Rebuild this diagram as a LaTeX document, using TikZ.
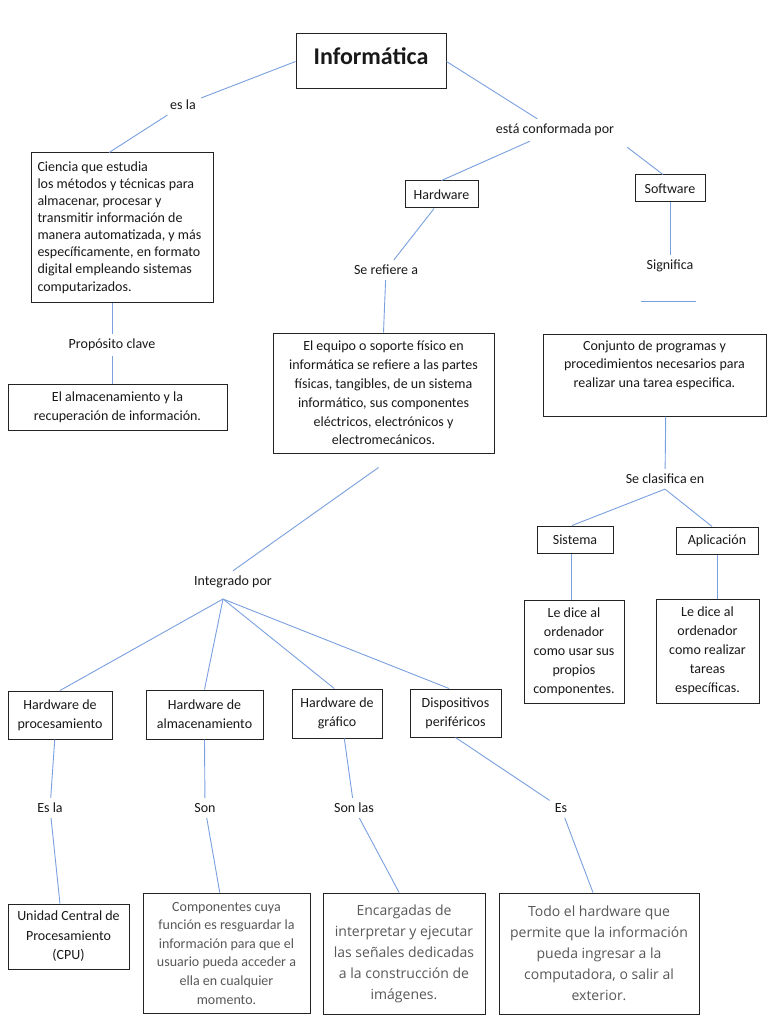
\documentclass[tikz,border=0pt]{standalone}
\usepackage{fontspec}
\setmainfont{Carlito}
\newfontfamily\osans{Open Sans}
\usetikzlibrary{calc}
\definecolor{lnblue}{RGB}{122,160,224}
\definecolor{txtgray}{RGB}{88,88,88}
\definecolor{bord}{RGB}{35,35,35}
\definecolor{txtdark}{RGB}{25,25,25}
\begin{document}
\begin{tikzpicture}[x=1pt,y=-1pt,
  box/.style={draw=bord, line width=1pt, inner sep=0pt, align=center, text=txtdark,
    font=\fontsize{14}{18.8}\selectfont},
  lbl/.style={inner sep=5pt, text=txtdark, font=\fontsize{14}{17}\selectfont},
  conn/.style={draw=lnblue, line width=0.9pt},
]
\useasboundingbox[fill=white] (0,0) rectangle (768,1024);

% ---------- boxes ----------
\node[box, minimum width=150, minimum height=55] (info) at (371,61.5) {};
\node[inner sep=0pt, text=txtdark, font=\fontsize{24}{28}\selectfont\bfseries] (infot) at (371,56) {Informática};

\node[box, minimum width=182, minimum height=149, text width=175, align=flush left, inner xsep=3.5pt,
  font=\fontsize{14}{17.1}\selectfont] (cien) at (122,227.5)
  {\hspace*{3pt}Ciencia que estudia\\ \hspace*{3pt}los métodos y técnicas para\\ \hspace*{3pt}almacenar, procesar y\\ \hspace*{3pt}transmitir información de\\ \hspace*{3pt}manera automatizada, y más\\ \hspace*{3pt}específicamente, en formato\\ \hspace*{3pt}digital empleando sistemas\\ \hspace*{3pt}computarizados.};

\node[box, minimum width=219, minimum height=46, font=\fontsize{14}{19}\selectfont] (alm) at (117.5,407)
  {El almacenamiento y la\\ recuperación de información.};

\node[box, minimum width=73, minimum height=27] (hw) at (441.5,194.5) {Hardware};
\node[box, minimum width=70, minimum height=27] (sw) at (670,188.5) {Software};

\node[box, minimum width=221, minimum height=120] (mid) at (383.5,393)
  {El equipo o soporte físico en\\ informática se refiere a las partes\\ físicas, tangibles, de un sistema\\ informático, sus componentes\\ eléctricos, electrónicos y\\ electromecánicos.};

\node[box, minimum width=223, minimum height=82] (conj) at (654.5,375) {};
\node[inner sep=0pt, align=center, text=txtdark, font=\fontsize{14}{18.3}\selectfont] (conjt) at (654.5,365)
  {Conjunto de programas y\\ procedimientos necesarios para\\ realizar una tarea especifica.};

\node[box, minimum width=76, minimum height=27] (sis) at (575,539.5) {Sistema};
\node[box, minimum width=82, minimum height=27] (apl) at (717,540.5) {Aplicación};

\node[box, minimum width=100, minimum height=103, font=\fontsize{14}{19}\selectfont] (sisd) at (574,651.5)
  {Le dice al\\ ordenador\\ como usar sus\\ propios\\ componentes.};
\node[box, minimum width=103, minimum height=104, font=\fontsize{14}{19}\selectfont] (apld) at (707.5,651)
  {Le dice al\\ ordenador\\ como realizar\\ tareas\\ específicas.};

\node[box, minimum width=104, minimum height=48, font=\fontsize{14}{19}\selectfont] (p1) at (60,715) {Hardware de\\ procesamiento};
\node[box, minimum width=117, minimum height=49, font=\fontsize{14}{19}\selectfont] (p2) at (204.5,714.5) {Hardware de\\ almacenamiento};
\node[box, minimum width=90, minimum height=49, font=\fontsize{14}{19}\selectfont] (p3) at (337,713.5) {Hardware de\\ gráfico};
\node[box, minimum width=91, minimum height=48, font=\fontsize{14}{19}\selectfont] (p4) at (455.5,713) {Dispositivos\\ periféricos};

\node[box, minimum width=121, minimum height=65, font=\fontsize{14}{19.5}\selectfont] (cpu) at (68.5,936.5)
  {Unidad Central de\\ Procesamiento\\ (CPU)};
\node[box, minimum width=167, minimum height=120, text=txtgray, font=\fontsize{14}{18.6}\selectfont] (comp) at (226.5,953)
  {Componentes cuya\\ función es resguardar la\\ información para que el\\ usuario pueda acceder a\\ ella en cualquier\\ momento.};
\node[box, minimum width=162, minimum height=121, text=txtgray, font=\osans\fontsize{14}{21}\selectfont] (enc) at (404,953.5)
  {Encargadas de\\ interpretar y ejecutar\\ las señales dedicadas\\ a la construcción de\\ imágenes.};
\node[box, minimum width=200, minimum height=121, text=txtgray, font=\osans\fontsize{14}{21}\selectfont] (todo) at (599,953.5)
  {Todo el hardware que\\ permite que la información\\ pueda ingresar a la\\ computadora, o salir al\\ exterior.};

% ---------- labels ----------
\node[lbl] (esla) at (183,105) {es la};
\node[lbl] (esta) at (555,130) {está conformada por};
\node[lbl] (refiere) at (386,270) {Se refiere a};
\node[lbl] (signif) at (670,266) {Significa};
\node[lbl] (prop) at (112,345) {Propósito clave};
\node[lbl] (clasif) at (665,479) {Se clasifica en};
\node[lbl] (integ) at (233,582) {Integrado por};
\node[lbl] (esla2) at (50,808) {Es la};
\node[lbl] (son) at (205,808) {Son};
\node[lbl] (sonlas) at (354,808) {Son las};
\node[lbl] (es) at (561,808) {Es};

\coordinate (hub) at (223,599);
\coordinate (sigA) at (641,301);
\coordinate (sigB) at (696,301);

% ---------- connectors ----------
\draw[conn] (info.west) -- (esla);
\draw[conn] (esla) -- ($(cien.north west)!0.43!(cien.north east)$);
\draw[conn] (info.east) -- (esta);
\draw[conn] (esta) -- (hw.north);
\draw[conn, shorten <=10pt] (esta.south east) -- ($(sw.north west)!0.4!(sw.north east)$);
\draw[conn] ($(hw.south west)!0.4!(hw.south east)$) -- (refiere);
\draw[conn] (refiere) -- (mid.north);
\draw[conn] (sw.south) -- (signif);
\draw[conn] (sigA) -- (sigB);
\draw[conn] (prop) -- (prop |- cien.south);
\draw[conn] (prop) -- (prop |- alm.north);
\draw[conn] ($(conj.south west)!0.55!(conj.south east)$) -- (clasif);
\draw[conn] (clasif.south) -- ($(sis.north west)!0.46!(sis.north east)$);
\draw[conn] (clasif.south) -- ($(apl.north west)!0.44!(apl.north east)$);
\draw[conn] ($(sis.south west)!0.46!(sis.south east)$) coordinate (s1) -- (s1 |- sisd.north);
\draw[conn] (apl.south) -- (apl.south |- apld.north);
\draw[conn] ($(mid.south)+(-5,14)$) -- (integ.north);
\draw[conn] (hub) -- (p1.north);
\draw[conn] (hub) -- (p2.north);
\draw[conn] (hub) -- ($(p3.north west)!0.47!(p3.north east)$);
\draw[conn] (hub) -- ($(p4.north west)!0.43!(p4.north east)$);
\draw[conn] ($(p1.south west)!0.45!(p1.south east)$) -- (esla2);
\draw[conn] (esla2) -- ($(cpu.north west)!0.43!(cpu.north east)$);
\draw[conn] (p2.south) -- (son);
\draw[conn] (son) -- ($(comp.north west)!0.46!(comp.north east)$);
\draw[conn] ($(p3.south west)!0.58!(p3.south east)$) -- (sonlas);
\draw[conn] (sonlas) -- ($(enc.north west)!0.47!(enc.north east)$);
\draw[conn] (p4.south) -- (es);
\draw[conn] (es) -- ($(todo.north west)!0.47!(todo.north east)$);
\end{tikzpicture}
\end{document}
